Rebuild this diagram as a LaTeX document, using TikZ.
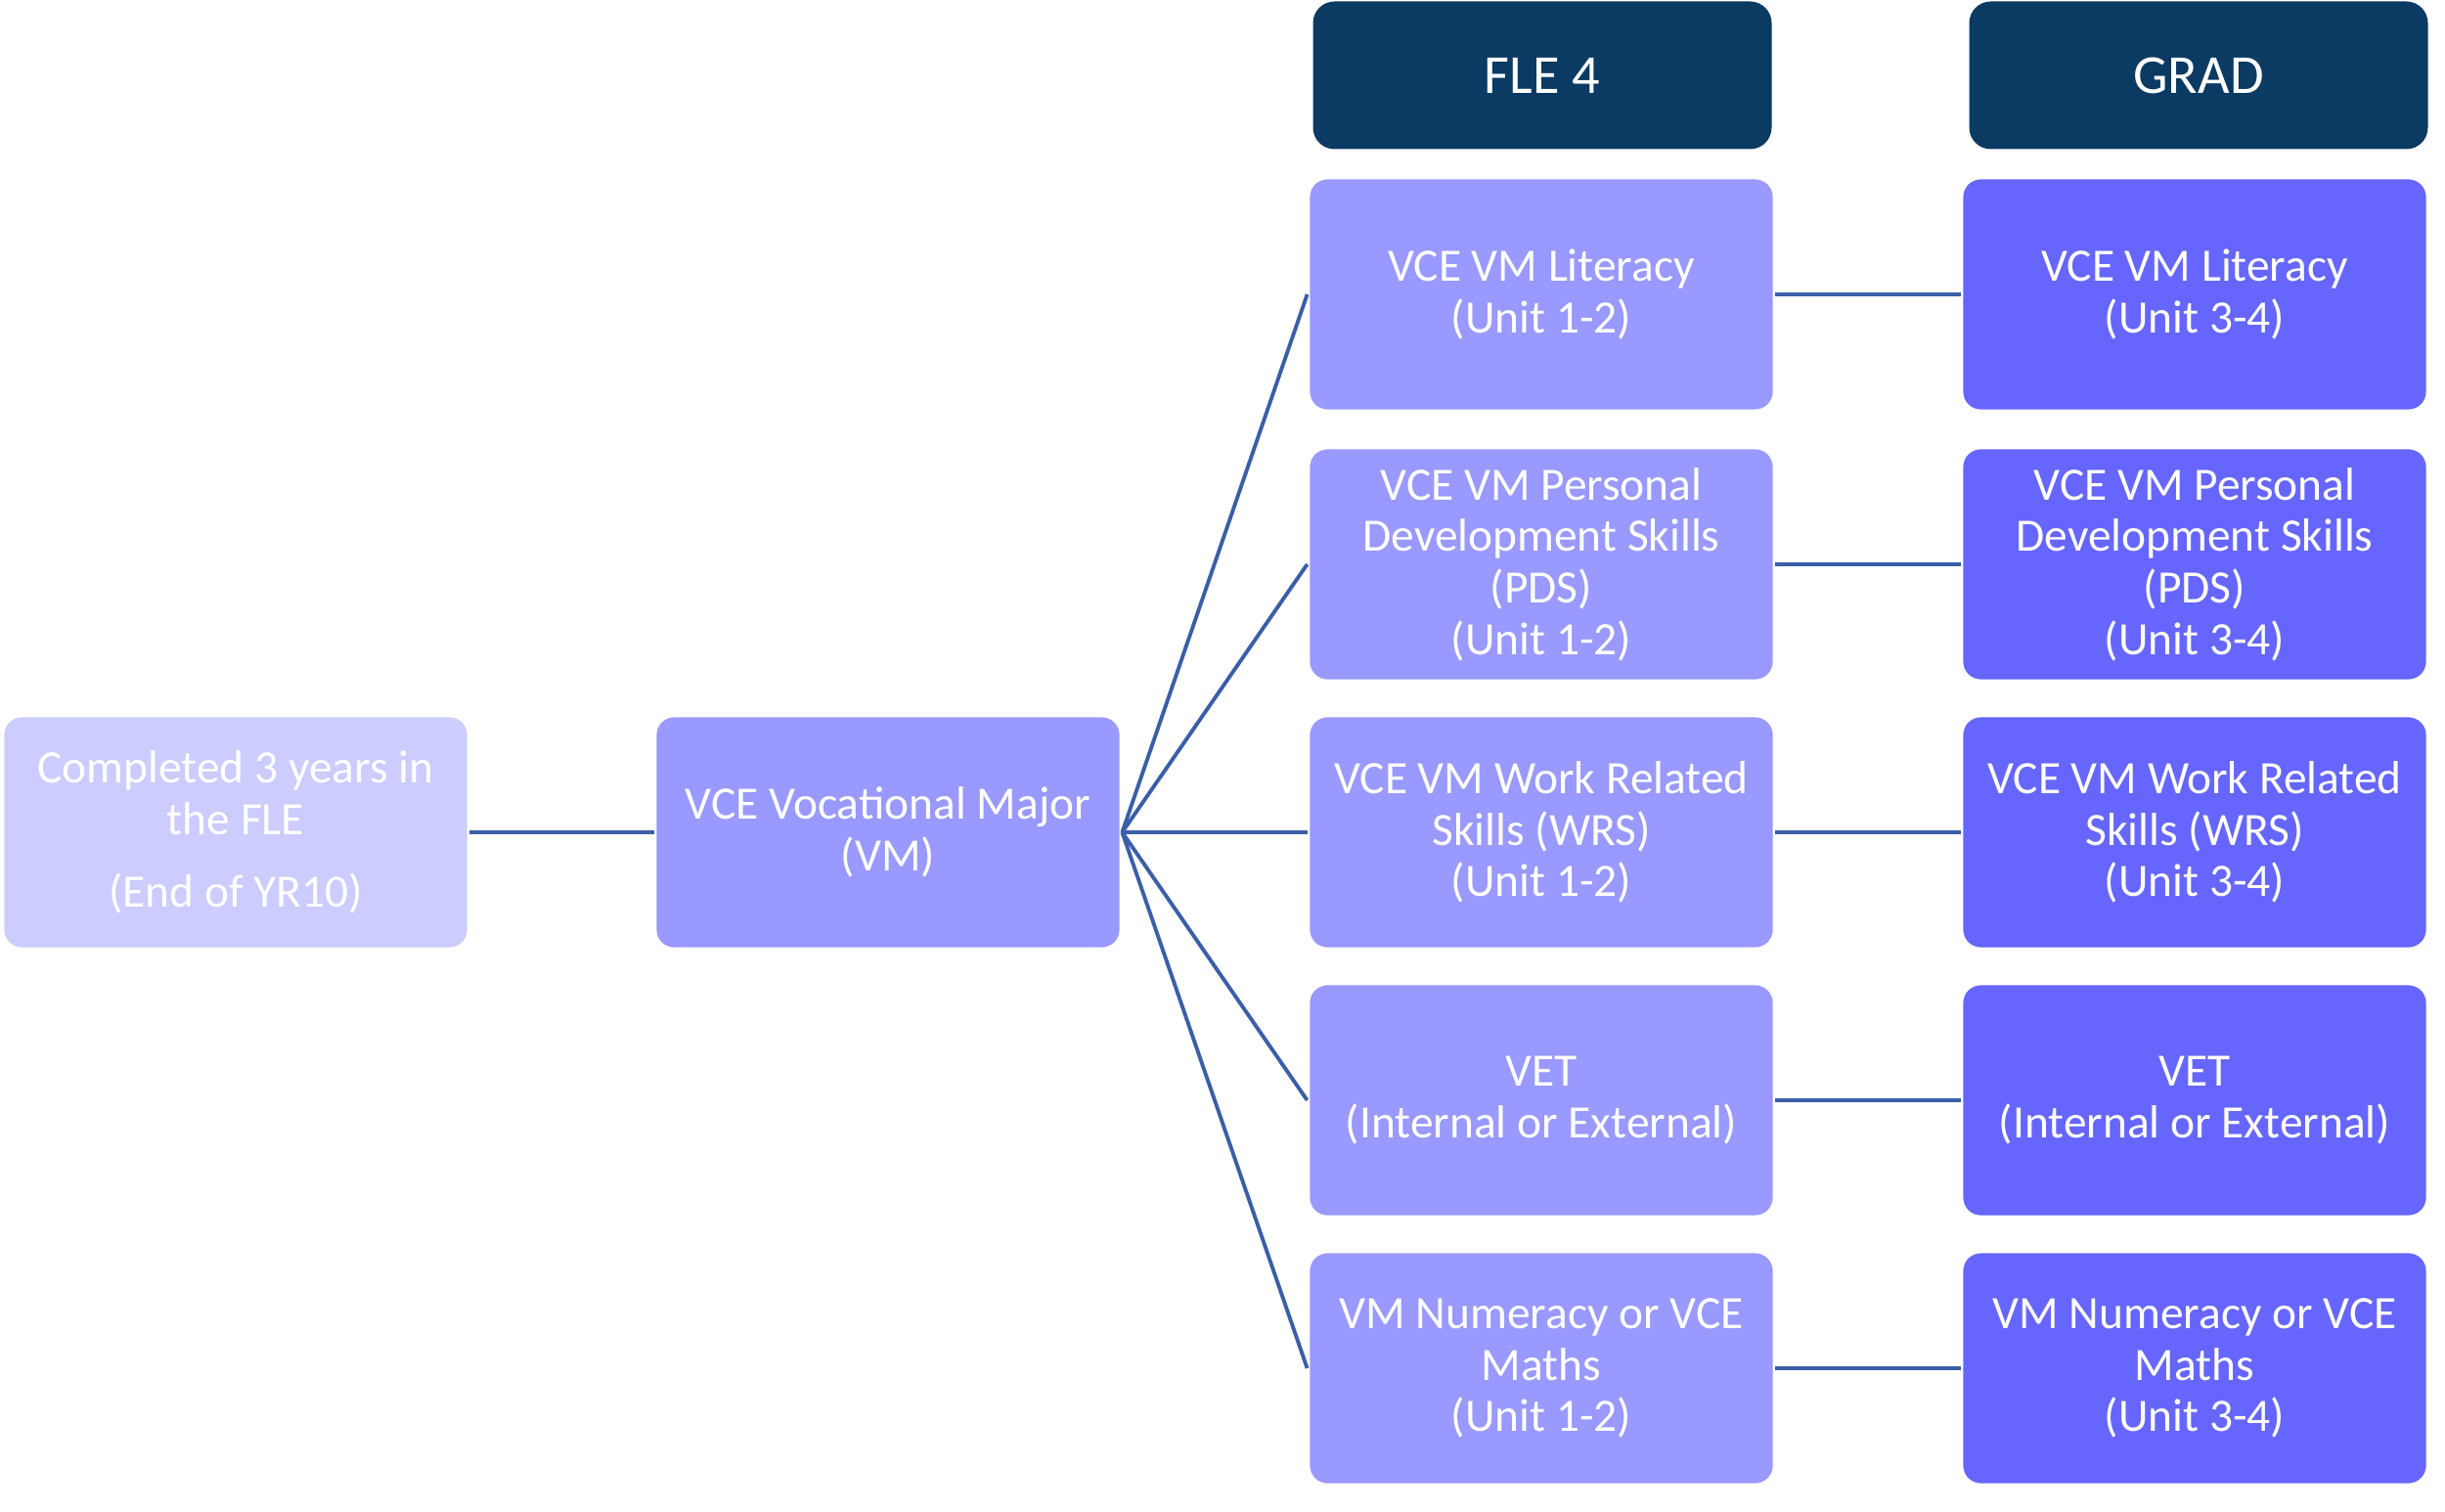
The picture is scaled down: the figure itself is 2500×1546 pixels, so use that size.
\documentclass[tikz,border=0pt]{standalone}
\usepackage{fontspec}
\setmainfont{Carlito}
\usetikzlibrary{positioning}
\definecolor{c0}{HTML}{CCCCFF}
\definecolor{c1}{HTML}{9999FF}
\definecolor{c2}{HTML}{6666FF}
\definecolor{hd}{HTML}{0B3A62}
\definecolor{ln}{HTML}{3B5EA8}

\begin{document}
\begin{tikzpicture}[x=0.1mm, y=-0.1mm,
  box/.style={draw=white, line width=0.8pt, fill=#1, text=white, rounded corners=1.9mm,
              minimum width=47.6mm, minimum height=23.8mm, align=center, inner sep=2pt,
              font=\fontsize{13.5}{15}\selectfont},
  head/.style={draw=none, fill=hd, text=white, rounded corners=2.2mm,
               minimum width=46.9mm, minimum height=15.1mm, font=\fontsize{16}{18}\selectfont},
  link/.style={draw=ln, line width=1.1pt},
]
  \useasboundingbox (0,0) rectangle (2500,1546);

  % headers
  \node[head] (fle)  at (1577,77) {FLE 4};
  \node[head] (grad) at (2248,77) {GRAD};

  % start and pathway
  \node[box=c0] (start) at (241,851) {Completed 3 years in\\the FLE\\[2.1mm](End of YR10)};
  \node[box=c1] (vm)    at (908,851) {VCE Vocational Major\\(VM)};

  % FLE 4 column
  \node[box=c1] (f1) at (1576,301)  {VCE VM Literacy\\(Unit 1-2)};
  \node[box=c1] (f2) at (1576,577)  {VCE VM Personal\\Development Skills\\(PDS)\\(Unit 1-2)};
  \node[box=c1] (f3) at (1576,851)  {VCE VM Work Related\\Skills (WRS)\\(Unit 1-2)};
  \node[box=c1] (f4) at (1576,1125) {VET\\(Internal or External)};
  \node[box=c1] (f5) at (1576,1399) {VM Numeracy or VCE\\Maths\\(Unit 1-2)};

  % GRAD column
  \node[box=c2] (g1) at (2244,301)  {VCE VM Literacy\\(Unit 3-4)};
  \node[box=c2] (g2) at (2244,577)  {VCE VM Personal\\Development Skills\\(PDS)\\(Unit 3-4)};
  \node[box=c2] (g3) at (2244,851)  {VCE VM Work Related\\Skills (WRS)\\(Unit 3-4)};
  \node[box=c2] (g4) at (2244,1125) {VET\\(Internal or External)};
  \node[box=c2] (g5) at (2244,1399) {VM Numeracy or VCE\\Maths\\(Unit 3-4)};

  % connectors
  \draw[link] (start.east) -- (vm.west);
  \draw[link] (vm.east) -- (f1.west);
  \draw[link] (vm.east) -- (f2.west);
  \draw[link] (vm.east) -- (f3.west);
  \draw[link] (vm.east) -- (f4.west);
  \draw[link] (vm.east) -- (f5.west);
  \draw[link] (f1.east) -- (g1.west);
  \draw[link] (f2.east) -- (g2.west);
  \draw[link] (f3.east) -- (g3.west);
  \draw[link] (f4.east) -- (g4.west);
  \draw[link] (f5.east) -- (g5.west);
\end{tikzpicture}
\end{document}
